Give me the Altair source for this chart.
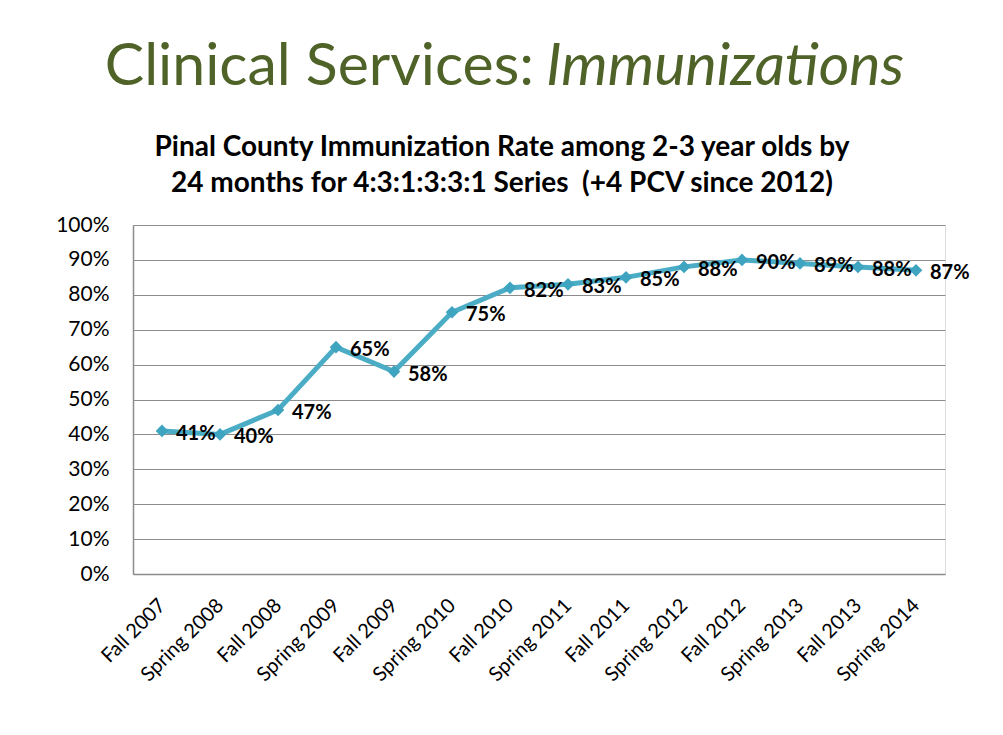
import altair as alt
import pandas as pd

periods = ["Fall 2007", "Spring 2008", "Fall 2008", "Spring 2009", "Fall 2009",
           "Spring 2010", "Fall 2010", "Spring 2011", "Fall 2011", "Spring 2012",
           "Fall 2012", "Spring 2013", "Fall 2013", "Spring 2014"]
rates = [0.41, 0.40, 0.47, 0.65, 0.58, 0.75, 0.82, 0.83, 0.85, 0.88,
         0.90, 0.89, 0.88, 0.87]

df = pd.DataFrame({"period": periods, "rate": rates})

FONT = "Lato"
W, H = 812, 349

x = alt.X("period:N", sort=periods, title=None,
          scale=alt.Scale(type="point", padding=0.5),
          axis=alt.Axis(labelAngle=-45, labelAlign="right", labelBaseline="middle",
                        labelFontSize=20, labelFont=FONT, labelColor="black",
                        labelPadding=28, ticks=False, domainColor="#8c8c8c",
                        domainWidth=1.5, grid=False))
y = alt.Y("rate:Q", title=None,
          scale=alt.Scale(domain=[0, 1]),
          axis=alt.Axis(format=".0%", values=[i / 10 for i in range(11)],
                        labelFontSize=21, labelFont=FONT, labelColor="black",
                        labelPadding=24, ticks=False, domainColor="#8c8c8c",
                        domainWidth=1.5, gridColor="#8c8c8c", gridWidth=1.2))

base = alt.Chart(df).encode(x=x, y=y)

line = base.mark_line(color="#4BACC6", strokeWidth=5)
points = base.mark_point(shape="diamond", filled=True, size=160,
                         color="#3FA4BF", opacity=1)
labels = base.mark_text(align="left", baseline="middle", dx=14, dy=3,
                        font=FONT, fontSize=20, fontWeight="bold",
                        color="black").encode(text=alt.Text("rate:Q", format=".0%"))

heading_df = pd.DataFrame({"t": [0]})
heading1 = alt.Chart(heading_df).mark_text(
    align="right", baseline="alphabetic", font=FONT, fontSize=59,
    color="#4F6228").encode(x=alt.value(401), y=alt.value(-140),
                            text=alt.value("Clinical Services:"))
heading2 = alt.Chart(heading_df).mark_text(
    align="left", baseline="alphabetic", font=FONT, fontSize=59,
    fontStyle="italic", color="#4F6228").encode(
        x=alt.value(413), y=alt.value(-140), text=alt.value("Immunizations"))
sub1 = alt.Chart(heading_df).mark_text(
    align="center", baseline="alphabetic", font=FONT, fontSize=28,
    fontWeight="bold", color="black").encode(
        x=alt.value(369), y=alt.value(-69),
        text=alt.value("Pinal County Immunization Rate among 2-3 year olds by"))
sub2 = alt.Chart(heading_df).mark_text(
    align="center", baseline="alphabetic", font=FONT, fontSize=28,
    fontWeight="bold", color="black").encode(
        x=alt.value(369), y=alt.value(-33),
        text=alt.value("24 months for 4:3:1:3:3:1 Series\u00a0\u00a0(+4 PCV since 2012)"))

chart = alt.layer(line, points, labels, heading1, heading2, sub1, sub2).properties(
    width=W, height=H,
    autosize=alt.AutoSizeParams(type="none"),
    padding={"left": 125, "top": 217, "right": 50, "bottom": 150},
).configure_view(stroke=None).configure(background="white")

chart.save("out.html", embed_options={"renderer": "svg", "actions": False})
